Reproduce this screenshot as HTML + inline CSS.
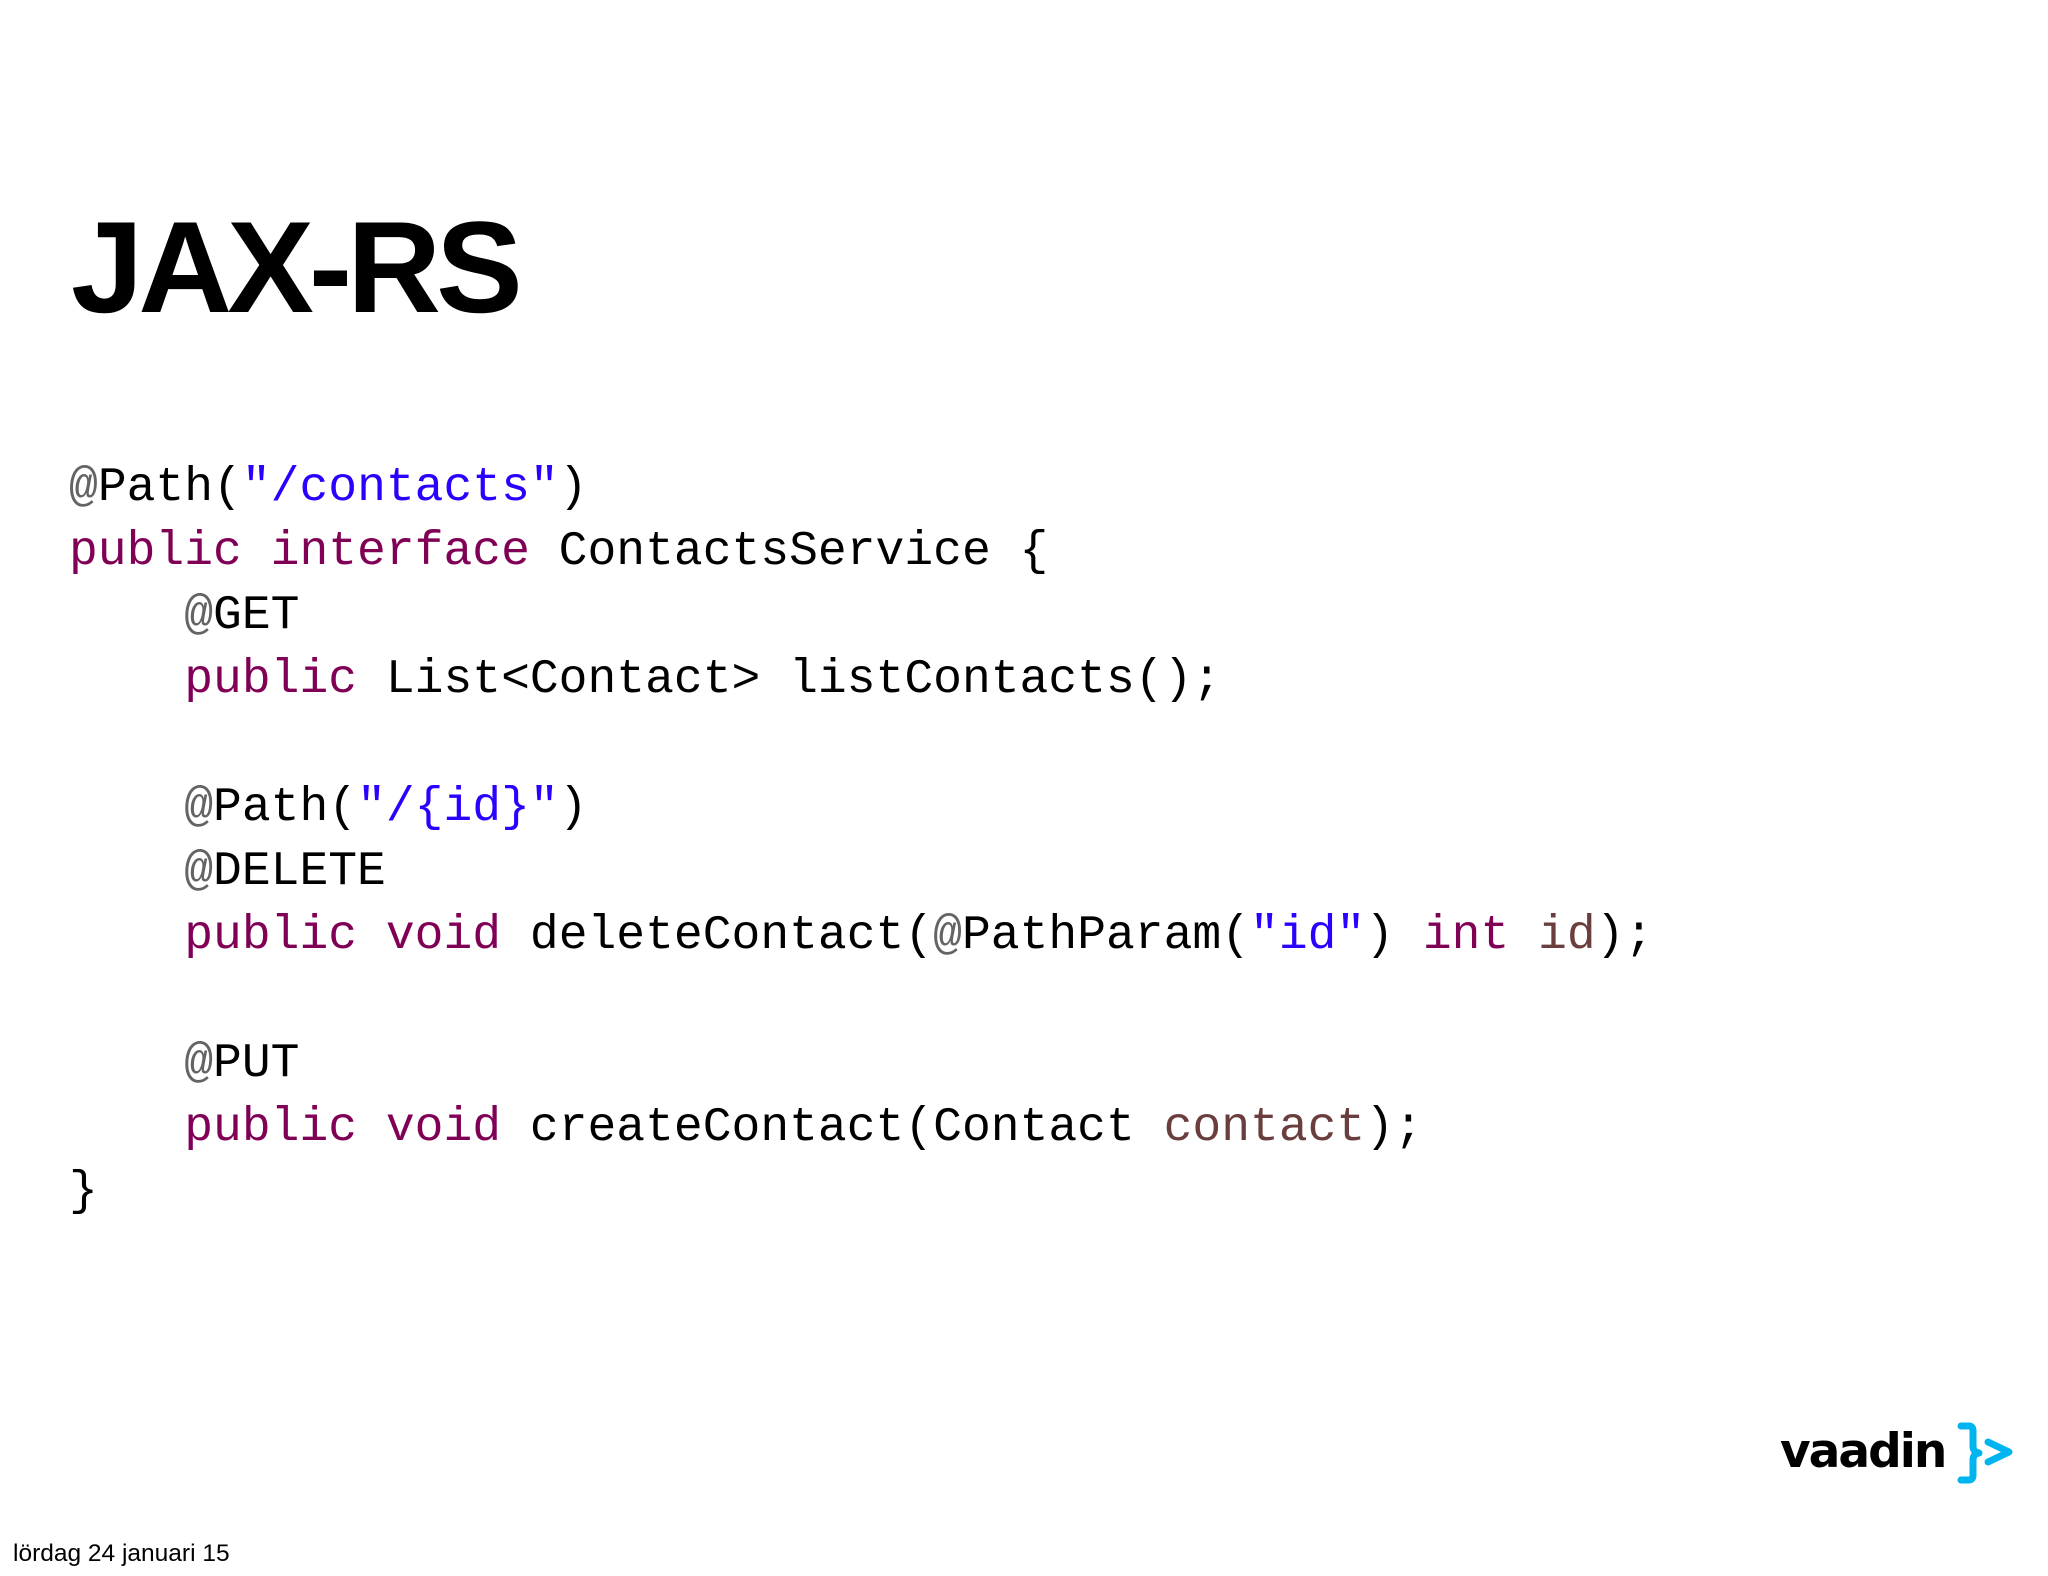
<!DOCTYPE html>
<html><head><meta charset="utf-8"><style>
html,body{margin:0;padding:0;background:#fff;}
body{width:2048px;height:1576px;position:relative;overflow:hidden;}
.t{position:absolute;left:71px;top:192px;font:bold 130px "Liberation Sans",sans-serif;letter-spacing:-5px;color:#000;}
pre{position:absolute;left:69px;top:456px;margin:0;font:48px/64px "Liberation Mono",monospace;color:#000;}
.k{color:#7f0055}.s{color:#2a00ff}.a{color:#646464}.p{color:#6a3e3e}
.d{position:absolute;left:13px;top:1540px;font:24.5px "Liberation Sans",sans-serif;color:#000;}
.v{position:absolute;left:1780px;top:1424px;font:bold 47px "DejaVu Sans",sans-serif;letter-spacing:-2px;color:#000;}
</style></head><body>
<div class="t">JAX-RS</div>
<pre><span class="a">@</span>Path(<span class="s">"/contacts"</span>)
<span class="k">public interface</span> ContactsService {
    <span class="a">@</span>GET
    <span class="k">public</span> List&lt;Contact&gt; listContacts();

    <span class="a">@</span>Path(<span class="s">"/{id}"</span>)
    <span class="a">@</span>DELETE
    <span class="k">public void</span> deleteContact(<span class="a">@</span>PathParam(<span class="s">"id"</span>) <span class="k">int</span> <span class="p">id</span>);

    <span class="a">@</span>PUT
    <span class="k">public void</span> createContact(Contact <span class="p">contact</span>);
}</pre>
<div class="v">vaadin</div>
<svg style="position:absolute;left:1955px;top:1422px" width="60" height="64">
<path d="M6 4 H14 Q18 4 18 9 V24 Q18 30 24 31 Q18 32 18 38 V53 Q18 58 14 58 H6" fill="none" stroke="#00b4f0" stroke-width="7" stroke-linecap="round" stroke-linejoin="round"/>
<path d="M33 20 L54 30 L33 40" fill="none" stroke="#00b4f0" stroke-width="7" stroke-linecap="round" stroke-linejoin="round"/>
</svg>
<div class="d">lördag 24 januari 15</div>
</body></html>
